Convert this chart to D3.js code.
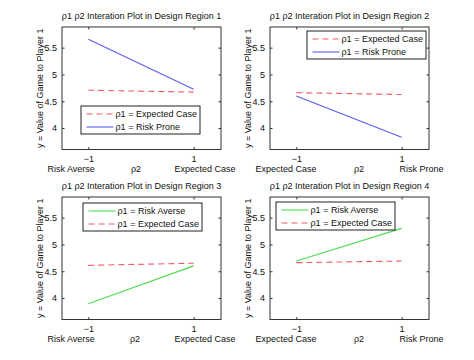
<!DOCTYPE html>
<html><head><meta charset="utf-8">
<script src="https://cdn.jsdelivr.net/npm/d3@7"></script>
<style>body{margin:0;background:#fff}svg{display:block}text{font-family:"Liberation Sans",Arial,Helvetica,sans-serif;font-size:9px;fill:#111}</style>
</head><body><svg id="c" width="474" height="360"></svg>
<script>
// ---- data ----
const xTicks = [-1, 1];
const xTickLabels = ["\u22121", "1"];
const yTicks = [4, 4.5, 5, 5.5];
const titles = [
  "\u03c11 \u03c12 Interation Plot in Design Region 1",
  "\u03c11 \u03c12 Interation Plot in Design Region 2",
  "\u03c11 \u03c12 Interation Plot in Design Region 3",
  "\u03c11 \u03c12 Interation Plot in Design Region 4"
];
const xLeftCategory = ["Risk Averse", "Expected Case", "Risk Averse", "Expected Case"];
const xRightCategory = ["Expected Case", "Risk Prone", "Expected Case", "Risk Prone"];
const xAxisName = "\u03c12";
const yAxisName = "y = Value of Game to Player 1";
const levels = [-1, 1];
const region1ExpectedCase = [4.706, 4.67];
const region1RiskProne = [5.655, 4.725];
const region2ExpectedCase = [4.66, 4.625];
const region2RiskProne = [4.60, 3.83];
const region3RiskAverse = [3.895, 4.60];
const region3ExpectedCase = [4.61, 4.65];
const region4RiskAverse = [4.69, 5.30];
const region4ExpectedCase = [4.66, 4.69];
const seriesNames = {
  expected: "\u03c11 = Expected Case",
  prone: "\u03c11 = Risk Prone",
  averse: "\u03c11 = Risk Averse"
};

// ---- styles / layout ----
const styles = {
  expected: {color: "#ee5a62", dash: "6,4"},
  prone: {color: "#5c5cf2", dash: null},
  averse: {color: "#4fdc4f", dash: null}
};
const panels = [
  {x: 62, y: 27, series: [["expected", region1ExpectedCase], ["prone", region1RiskProne]], leg: [19, 79], rho: 136},
  {x: 270, y: 27, series: [["expected", region2ExpectedCase], ["prone", region2RiskProne]], leg: [37, 4], rho: 359},
  {x: 62, y: 197, series: [["averse", region3RiskAverse], ["expected", region3ExpectedCase]], leg: [21, 6], rho: 135},
  {x: 270, y: 197, series: [["averse", region4RiskAverse], ["expected", region4ExpectedCase]], leg: [6, 5], rho: 359}
];
const W = 159, H = 122.5;
const svg = d3.select("#c");

panels.forEach((p, i) => {
  const g = svg.append("g").attr("transform", `translate(${p.x},${p.y})`);
  const x = d3.scaleLinear().domain([-1.5, 1.52]).range([0, W]);
  const y = d3.scaleLinear().domain([3.6, 5.885]).range([H, 0]);

  // lines
  p.series.forEach(([key, vals]) => {
    const line = d3.line().x((d, j) => x(levels[j])).y(d => y(d));
    g.append("path").datum(vals).attr("d", line)
      .attr("fill", "none").attr("stroke", styles[key].color).attr("stroke-width", 1.1)
      .attr("stroke-dasharray", styles[key].dash);
  });

  // axes with inner ticks
  const ax = [
    d3.axisBottom(x).tickValues(xTicks).tickSize(-2.5).tickFormat((d, j) => xTickLabels[j]),
    d3.axisTop(x).tickValues(xTicks).tickSize(-2.5).tickFormat(""),
    d3.axisLeft(y).tickValues(yTicks).tickSize(-2.5).tickFormat(d3.format("")),
    d3.axisRight(y).tickValues(yTicks).tickSize(-2.5).tickFormat("")
  ];
  const tr = [`translate(0,${H})`, "translate(0,0)", "translate(0,0)", `translate(${W},0)`];
  ax.forEach((a, k) => {
    const ag = g.append("g").attr("transform", tr[k]).call(a);
    ag.select(".domain").remove();
    ag.selectAll("line").attr("stroke", "#333");
    ag.selectAll("text").attr("font-family", null).attr("font-size", null).attr("fill", "#111");
    if (k === 0) ag.selectAll("text").attr("y", 6).attr("dy", "0.71em");
    if (k === 2) ag.selectAll("text").attr("x", -5).attr("dy", "0.32em");
  });
  g.append("rect").attr("width", W).attr("height", H).attr("fill", "none")
    .attr("stroke", "#333").attr("stroke-width", 1);

  // title
  g.append("text").attr("x", W / 2).attr("y", -8).attr("text-anchor", "middle").text(titles[i]);
  // x label
  const cx = W / 2;
  g.append("text").attr("x", cx - 94).attr("y", H + 22.5).text(xLeftCategory[i]);
  g.append("text").attr("x", cx + 94).attr("y", H + 22.5).attr("text-anchor", "end").text(xRightCategory[i]);
  g.append("text").attr("x", p.rho - p.x).attr("y", H + 22.5).attr("text-anchor", "middle").text(xAxisName);
  // y label
  g.append("text").attr("transform", `translate(-19.5,${H / 2}) rotate(-90)`)
    .attr("text-anchor", "middle").text(yAxisName);

  // legend
  const lg = g.append("g").attr("transform", `translate(${p.leg[0]},${p.leg[1]})`);
  lg.append("rect").attr("width", 119).attr("height", 28).attr("fill", "#fff")
    .attr("stroke", "#222").attr("stroke-width", 1);
  p.series.forEach(([key], j) => {
    const yy = 8 + j * 13;
    lg.append("line").attr("x1", 5.5).attr("x2", 32.5).attr("y1", yy).attr("y2", yy)
      .attr("stroke", styles[key].color).attr("stroke-width", 1.1).attr("stroke-dasharray", styles[key].dash);
    lg.append("text").attr("x", 34.5).attr("y", yy + 3.2).text(seriesNames[key]);
  });
});
</script></body></html>
